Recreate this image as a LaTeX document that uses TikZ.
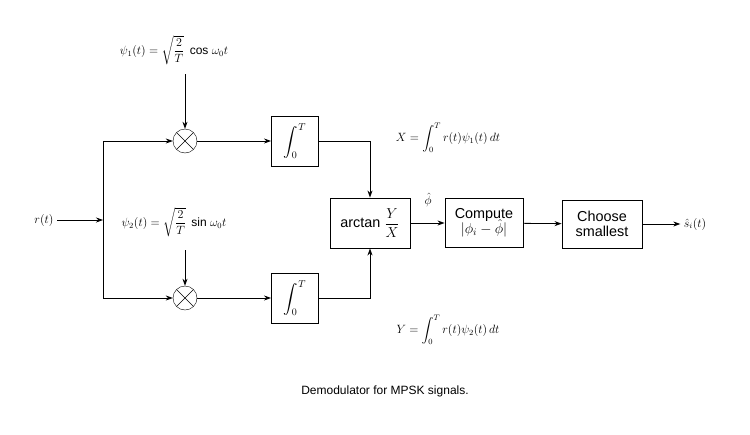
\documentclass[tikz,border=0pt]{standalone}
\usepackage{amsmath}
\usepackage{fontspec}
\setmainfont{Liberation Sans}
\usetikzlibrary{arrows.meta}
\begin{document}
\begin{tikzpicture}[x=1pt,y=-1pt,
  blk/.style={draw,line width=0.9pt,align=center,inner sep=1pt,font=\Large},
  lbl/.style={font=\large},
  mult/.style={draw,circle,minimum size=24pt,inner sep=0pt,path picture={\draw (path picture bounding box.south west)--(path picture bounding box.north east)(path picture bounding box.north west)--(path picture bounding box.south east);}},
  con/.style={line width=0.8pt},
  arr/.style={con,-{Stealth[length=7pt,width=5pt]}}]
\useasboundingbox (0,0) rectangle (750,434);
\node[lbl] (rt) at (44,220) {$r(t)$};
\coordinate (sp) at (103,220);
\coordinate (st) at (103,141);
\coordinate (sb) at (103,298);
\node[mult] (m1) at (185,141) {};
\node[mult] (m2) at (185,298) {};
\node[lbl] (p1) at (174,50) {$\psi_1(t)=\sqrt{\dfrac{2}{T}}$\, cos $\omega_0 t$};
\node[lbl] (p2) at (174,222) {$\psi_2(t)=\sqrt{\dfrac{2}{T}}$\, sin $\omega_0 t$};
\coordinate (p1b) at (185,74);
\coordinate (p2b) at (185,250);
\node[blk,minimum width=47pt,minimum height=50pt] (i1) at (295,141) {$\displaystyle\int_0^T$};
\node[blk,minimum width=47pt,minimum height=50pt] (i2) at (295,298) {$\displaystyle\int_0^T$};
\node[blk,minimum width=80pt,minimum height=50pt] (at) at (370,223) {arctan $\dfrac{Y}{X}$};
\node[blk,minimum width=78pt,minimum height=49pt] (cp) at (484,223) {Compute\\[-3pt]$|\phi_i-\hat\phi|$};
\node[blk,minimum width=80pt,minimum height=48pt] (ch) at (602,224) {Choose\\[-3pt]smallest};
\node[lbl] (out) at (695,224) {$\hat s_i(t)$};
\node[lbl] (ph) at (428,200) {$\hat\phi$};
\node[lbl] (X) at (448,138) {$X=\displaystyle\int_0^T r(t)\psi_1(t)\,dt$};
\node[lbl] (Y) at (448,330) {$Y=\displaystyle\int_0^T r(t)\psi_2(t)\,dt$};
\node[font=\large] (cap) at (385,391) {Demodulator for MPSK signals.};
\draw[arr] (rt) -- (sp);
\draw[con] (st) -- (sb);
\draw[arr] (st) -- (m1);
\draw[arr] (sb) -- (m2);
\draw[arr] (p1b) -- (m1);
\draw[arr] (p2b) -- (m2);
\draw[arr] (m1) -- (i1);
\draw[arr] (m2) -- (i2);
\draw[arr] (i1.east) -| (at.north);
\draw[arr] (i2.east) -| (at.south);
\draw[arr] (at) -- (cp);
\draw[arr] (cp) -- (ch);
\draw[arr] (ch) -- (out);
\end{tikzpicture}
\end{document}
